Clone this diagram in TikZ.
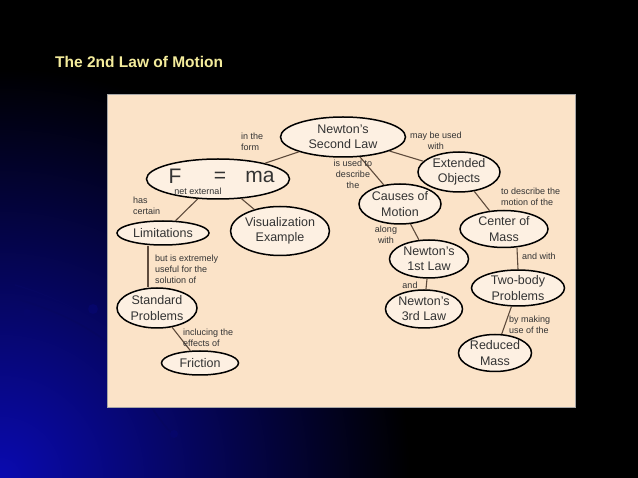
\documentclass[tikz,border=0pt]{standalone}
\usepackage{fontspec}
\setmainfont{Liberation Sans}
\usepackage{xcolor}
\usetikzlibrary{shapes.geometric}
\definecolor{panel_fill}{HTML}{FBE3C8}
\definecolor{node_fill}{HTML}{FDF0E2}
\definecolor{link_brown}{HTML}{5E4B3C}
\definecolor{title_yellow}{HTML}{F4EC9C}
\definecolor{slide_blue}{HTML}{0A0AB0}
\definecolor{text_dark}{HTML}{333333}

\tikzset{
  concept/.style={ellipse, draw=black, line width=1.5pt, fill=node_fill, align=center,
    inner sep=0pt, text=text_dark, font=\fontsize{12.5}{15.5}\selectfont},
  link/.style={draw=link_brown, line width=1.1pt},
  linklabel/.style={inner sep=0pt, text=text_dark, font=\fontsize{9}{11}\selectfont},
  swirl/.style={draw=slide_blue!55!black, line width=1.6pt}
}

\begin{document}
\begin{tikzpicture}[x=1pt, y=-1pt]
      \useasboundingbox (0,0) rectangle (638,478);
      % Slide background
      \fill[black] (0,0) rectangle (638,478);
      \begin{scope}
        \clip (0,0) rectangle (638,478);
        \shade[inner color=slide_blue, outer color=black] (0,478) circle (410);
      \end{scope}
      \draw[swirl] (15,285) .. controls (50,295) and (80,310) .. (107,328);
      \draw[swirl] (20,300) .. controls (55,310) and (85,325) .. (107,342);
      \fill[slide_blue!60!black] (27,313) circle (4);
      \fill[slide_blue!60!black] (93,309) circle (5);
      \draw[swirl] (152,408) .. controls (160,420) and (168,430) .. (178,440);
      \fill[slide_blue!60!black] (174,434) circle (4);
      % Title
      \node[anchor=west, inner sep=0pt, text=title_yellow, font=\fontsize{15.5}{18}\selectfont\bfseries] (title) at (55,62) {The 2nd Law of Motion};
      % Map panel
      \draw[fill=panel_fill, draw=gray!70, line width=1pt] (107,95) rectangle (575,408);
      % Concepts
      \node[concept, minimum width=125pt, minimum height=40pt] (second) at (343,137) {Newton's\\Second Law};
      \node[concept, minimum width=143pt, minimum height=40pt] (fma) at (218,179) {};
      \node[inner sep=0pt, text=text_dark, font=\fontsize{21}{21}\selectfont] (fF) at (175,176) {F};
      \node[inner sep=0pt, text=text_dark, font=\fontsize{21}{21}\selectfont] (fEq) at (220,177) {=};
      \node[inner sep=0pt, text=text_dark, font=\fontsize{21}{21}\selectfont] (fMa) at (260,177) {ma};
      \node[linklabel] (fNet) at (198,191) {net external};
      \node[concept, minimum width=95pt, minimum height=49pt] (vis) at (280,231) {Visualization\\Example};
      \node[concept, minimum width=92pt, minimum height=24pt] (limit) at (163,233) {Limitations};
      \node[concept, minimum width=80pt, minimum height=40pt] (std) at (157,308) {Standard\\Problems};
      \node[concept, minimum width=77pt, minimum height=24pt] (friction) at (200,363) {Friction};
      \node[concept, minimum width=82pt, minimum height=40pt] (ext) at (459,172) {Extended\\Objects};
      \node[concept, minimum width=82pt, minimum height=40pt] (causes) at (400,204) {Causes of\\Motion};
      \node[concept, minimum width=88pt, minimum height=37pt] (cmass) at (504,229) {Center of\\Mass};
      \node[concept, minimum width=79pt, minimum height=38pt] (first) at (429,259) {Newton's\\1st Law};
      \node[concept, minimum width=77pt, minimum height=38pt] (third) at (424,309) {Newton's\\3rd Law};
      \node[concept, minimum width=93pt, minimum height=36pt] (twobody) at (518,288) {Two-body\\Problems};
      \node[concept, minimum width=73pt, minimum height=37pt] (reduced) at (495,353) {Reduced\\Mass};
      % Links
      \draw[link] (second) -- (fma);
      \draw[link] (second) -- (ext);
      \draw[link] (second) -- (causes);
      \draw[link] (fma) -- (limit);
      \draw[link] (fma) -- (vis);
      \draw[link] ([xshift=-15pt]limit.south) -- ([xshift=-9pt]std.north);
      \draw[link] (std) -- (friction);
      \draw[link] (ext) -- (cmass);
      \draw[link] (causes) -- (first);
      \draw[link] (first) -- (third);
      \draw[link] ([xshift=13pt]cmass.south) -- (twobody.north);
      \draw[link] (twobody) -- (reduced);
      % Link labels
      \node[linklabel, anchor=west, align=left] (lForm) at (241,142) {in the\\form};
      \node[linklabel, align=center] (lUsed) at (436,141) {may be used\\with};
      \node[linklabel, align=center] (lDescribe) at (353,174) {is used to\\describe\\the};
      \node[linklabel, anchor=west, align=left] (lCertain) at (133,206) {has\\certain};
      \node[linklabel, anchor=west, align=left] (lUseful) at (155,269) {but is extremely\\useful for the\\solution of};
      \node[linklabel, anchor=west, align=left] (lEffects) at (183,338) {inclucing the\\effects of};
      \node[linklabel, anchor=west, align=left] (lMotion) at (501,197) {to describe the\\motion of the};
      \node[linklabel, align=center] (lAlong) at (386,235) {along\\with};
      \node[linklabel] (lAnd) at (410,285) {and};
      \node[linklabel, anchor=west] (lAndWith) at (522,256) {and with};
      \node[linklabel, anchor=west, align=left] (lMaking) at (509,325) {by making\\use of the};
    \end{tikzpicture}
\end{document}
